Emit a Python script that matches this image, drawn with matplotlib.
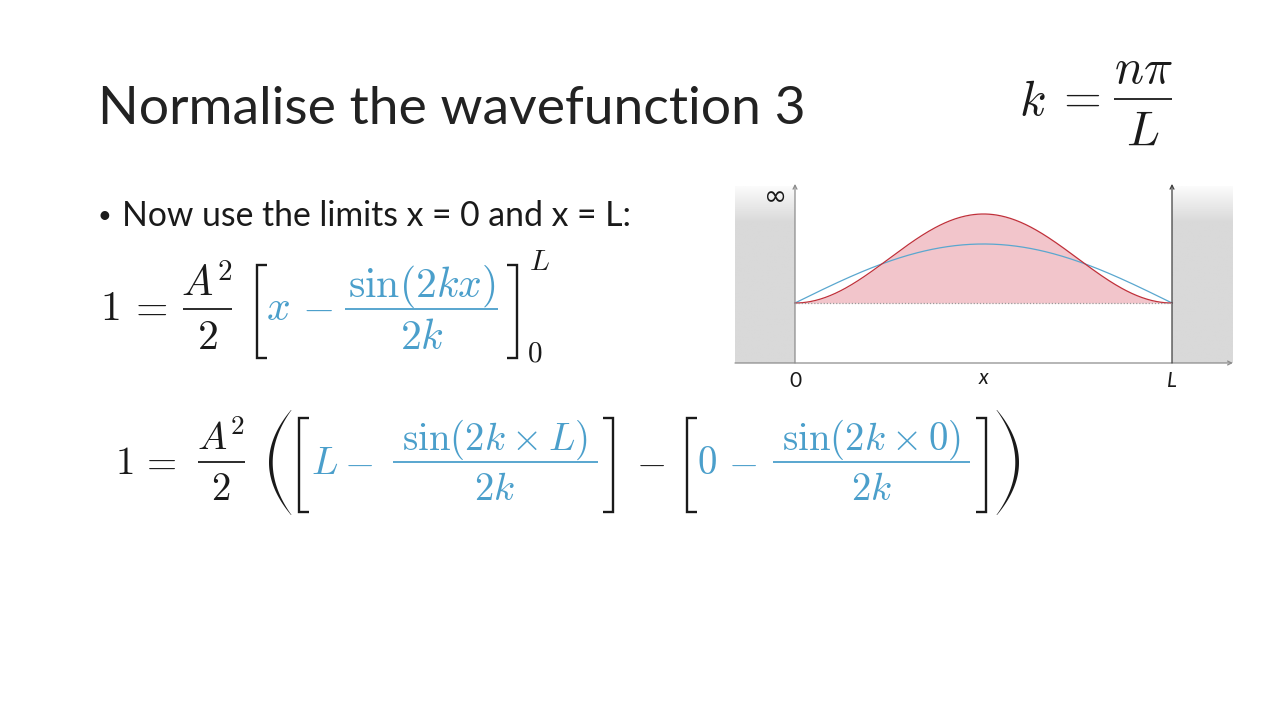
import numpy as np
import matplotlib.pyplot as plt
from matplotlib.patches import Polygon
from matplotlib.colors import LinearSegmentedColormap

plt.rcParams['mathtext.fontset'] = 'cm'

#Slide texts
title      = 'Normalise the wavefunction 3'
bulletText = 'Now use the limits x = 0 and x = L:'
blue  = '#4b9fcb'
black = '#1a1a1a'

#Well picture values (L = 1, red peak = 1)
wellL     = 1.0
ampPsiSq  = 1.0
ampPsi    = 0.663
axisLabels = ['0', 'x', 'L']
axisLabelX = [0.0, 0.5, 1.0]

fig = plt.figure(figsize=(12.8, 7.2), dpi=100)
ax = fig.add_axes([0, 0, 1, 1])
ax.set_xlim(0, 1280)
ax.set_ylim(720, 0)
ax.axis('off')

#Title and bullet
ax.text(98, 124, title, fontsize=38.5, family='Lato', weight='normal',
        color='#222222', va='baseline')
ax.text(98, 223, '\u2022', fontsize=17, family='Lato', color=black, va='baseline')
ax.text(122, 226, bulletText, fontsize=24.3, family='Lato', color=black, va='baseline')

def frac(xc, ybar, num, den, x0, x1, color, fs, dnum=12, dden=40):
    ax.text(xc, ybar - dnum, num, fontsize=fs, color=color, ha='center', va='baseline')
    ax.text(xc, ybar + dden, den, fontsize=fs, color=color, ha='center', va='baseline')
    ax.plot([x0, x1], [ybar, ybar], color=color, lw=1.3, solid_capstyle='butt')

def bracket(x, y0, y1, side, color=black, w=10):
    d = w if side == 'l' else -w
    ax.plot([x + d, x, x, x + d], [y0, y0, y1, y1], color=color, lw=1.7,
            solid_joinstyle='miter', solid_capstyle='butt')

def paren(x, y0, y1, side, w=22, th=3.2):
    t = np.linspace(-1, 1, 60)
    ym = (y0 + y1) / 2
    yy = ym + t * (y1 - y0) / 2
    if side == 'l':
        xo = x + w * t ** 2
        xi = xo + th * (1 - t ** 2) + 0.5
    else:
        xo = x - w * t ** 2
        xi = xo - th * (1 - t ** 2) - 0.5
    pts = np.column_stack([np.concatenate([xo, xi[::-1]]),
                           np.concatenate([yy, yy[::-1]])])
    ax.add_patch(Polygon(pts, closed=True, color=black, lw=0))

#k = n pi / L
ax.text(1019, 115, '$k$', fontsize=35, color=black, va='baseline')
ax.text(1055, 112, '$=$', fontsize=35, color=black, va='baseline')
frac(1143, 99, r'$n\pi$', '$L$', 1114, 1172, black, 35, dnum=16, dden=46)

#Equation 1
bar1 = 309
ax.text(100, bar1 + 11, '$1$', fontsize=30, color=black, va='baseline')
ax.text(128, bar1 + 11, '$=$', fontsize=30, color=black, va='baseline')
frac(207, bar1, '$A^{2}$', '$2$', 183, 232, black, 30)
bracket(257, 265, 358, 'l')
ax.text(266, bar1 + 11, '$x$', fontsize=30, color=blue, va='baseline')
ax.text(302, bar1 + 11, '$-$', fontsize=30, color=blue, va='baseline')
frac(422, bar1, r'$\sin(2kx)$', '$2k$', 345, 498, blue, 30)
bracket(517, 265, 358, 'r')
ax.text(529, 270, '$L$', fontsize=21, color=black, va='baseline')
ax.text(527, 362, '$0$', fontsize=21, color=black, va='baseline')

#Equation 2
bar2 = 462
ax.text(115, bar2 + 12, '$1$', fontsize=28, color=black, va='baseline')
ax.text(140, bar2 + 12, '$=$', fontsize=28, color=black, va='baseline')
frac(221, bar2, '$A^{2}$', '$2$', 198, 245, black, 28, dnum=12, dden=38)
paren(269, 410, 515, 'l')
bracket(299, 418, 512, 'l')
ax.text(311, bar2 + 12, '$L$', fontsize=28, color=blue, va='baseline')
ax.text(344, bar2 + 12, '$-$', fontsize=28, color=blue, va='baseline')
frac(495, bar2, r'$\sin(2k\times L)$', '$2k$', 393, 598, blue, 28, dnum=12, dden=38)
bracket(613, 418, 512, 'r')
ax.text(636, bar2 + 12, '$-$', fontsize=28, color=black, va='baseline')
bracket(687, 418, 512, 'l')
ax.text(697, bar2 + 12, '$0$', fontsize=28, color=blue, va='baseline')
ax.text(728, bar2 + 12, '$-$', fontsize=28, color=blue, va='baseline')
frac(872, bar2, r'$\sin(2k\times 0)$', '$2k$', 773, 970, blue, 28, dnum=12, dden=38)
bracket(986, 418, 512, 'r')
paren(1019, 410, 515, 'r')

#Infinite well picture
pxU = 377.0
pyU = 89.0
xl, xr = -60 / pxU, 1 + 62 / pxU
yb, yt = -(365 - 303) / pyU, (303 - 183) / pyU
wl = fig.add_axes([735 / 1280, 1 - 365 / 720, (1234 - 735) / 1280, (365 - 183) / 720])
wl.set_xlim(xl, xr)
wl.set_ylim(yb, yt)
wl.axis('off')

base = -(363 - 303) / pyU
wallTop = (303 - 186) / pyU
grad = np.linspace(0, 1, 100).reshape(-1, 1)
grad = np.clip(grad * 5.0, 0, 1)
cm = LinearSegmentedColormap.from_list('w', ['#fbfbfb', '#d9d9d9'])
for x0, x1 in [(xl, 0), (wellL, xr - 0.005)]:
    wl.imshow(grad, extent=[x0, x1, base, wallTop], cmap=cm, aspect='auto',
              origin='upper', zorder=0)

xs = np.linspace(0, wellL, 300)
psi = ampPsi * np.sin(np.pi * xs / wellL)
psiSq = ampPsiSq * np.sin(np.pi * xs / wellL) ** 2
wl.fill_between(xs, 0, psiSq, color='#f2c5cb', lw=0, zorder=1)
wl.plot(xs, psi, color='#5aa7cf', lw=0.9, zorder=2)
wl.plot(xs, psiSq, color='#c0303a', lw=0.9, zorder=3)
wl.plot([0, wellL], [0, 0], color='#9a9a9a', lw=0.9, ls=(0, (1, 1.5)), zorder=4)

arr = dict(arrowstyle='->', lw=0.9, shrinkA=0, shrinkB=0, mutation_scale=7)
wl.annotate('', xy=(xr - 0.003, base), xytext=(xl, base),
            arrowprops=dict(arr, color='#8c8c8c'))
wl.annotate('', xy=(0, yt - 0.01), xytext=(0, base),
            arrowprops=dict(arr, color='#8c8c8c'))
wl.annotate('', xy=(wellL, yt - 0.01), xytext=(wellL, base),
            arrowprops=dict(arr, color='#404040'))

for lab, lx in zip(axisLabels, axisLabelX):
    px = 795 + lx * pxU
    sty = 'italic' if lab != '0' else 'normal'
    ax.text(px, 387 if lab != 'x' else 384, lab, fontsize=15, family='Lato',
            style=sty, color=black, ha='center', va='baseline')
fig.text(776 / 1280, 1 - 197 / 720, '\u221e', fontsize=20, family='DejaVu Sans',
         color=black, ha='center', va='center', zorder=10)

fig.savefig('out.png', dpi=100)
